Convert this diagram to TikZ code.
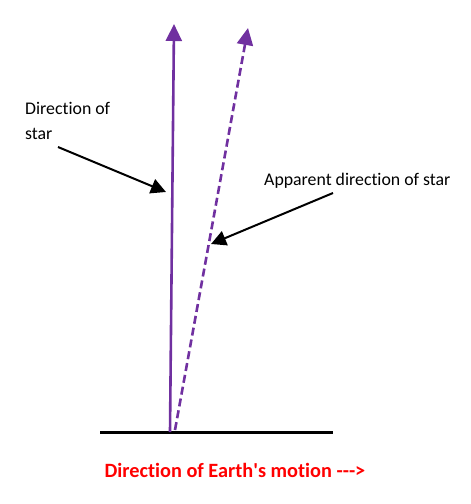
\documentclass[tikz,border=0pt]{standalone}
\usepackage{fontspec}
\setmainfont[Ligatures=NoCommon]{Carlito}
\usetikzlibrary{arrows.meta}
\definecolor{starpurple}{HTML}{7030A0}
\definecolor{motionred}{HTML}{FF0000}
\tikzset{
  ray/.style={starpurple, line width=2.6pt, -{Triangle[length=17pt,width=16pt]}},
  pointer/.style={black, line width=2pt, -{Triangle[length=15pt,width=15pt]}},
  label/.style={font=\fontsize{17.8}{25}\selectfont, inner sep=0pt, align=left}
}
\begin{document}
\begin{tikzpicture}[x=1pt,y=-1pt]
\useasboundingbox (0,0) rectangle (471,504);
% ground
\coordinate (gl) at (100,432);
\coordinate (gr) at (333,432);
\draw[black, line width=3pt] (gl) -- (gr);
% true direction
\coordinate (sb) at (170,432);
\coordinate (st) at (174,24);
\draw[ray] (sb) -- (st);
% apparent direction
\coordinate (ab) at (175,430);
\coordinate (at2) at (248,28);
\draw[ray, dash pattern=on 8pt off 4pt] (ab) -- (at2);
% labels
\node[label, anchor=west] (dirstar) at (25,121) {Direction of\\star};
\coordinate (p1s) at (58,147);
\coordinate (p1e) at (166,192);
\draw[pointer] (p1s) -- (p1e);
\node[label, anchor=west] (appdir) at (264,181) {Apparent direction of star};
\coordinate (p2s) at (333,193);
\coordinate (p2e) at (211,244);
\draw[pointer] (p2s) -- (p2e);
\node[font=\bfseries\fontsize{20.3}{24}\selectfont, text=motionred, inner sep=0pt] (motion) at (235,470) {Direction of Earth\textquotesingle s motion -{}-{}->};
\end{tikzpicture}
\end{document}
